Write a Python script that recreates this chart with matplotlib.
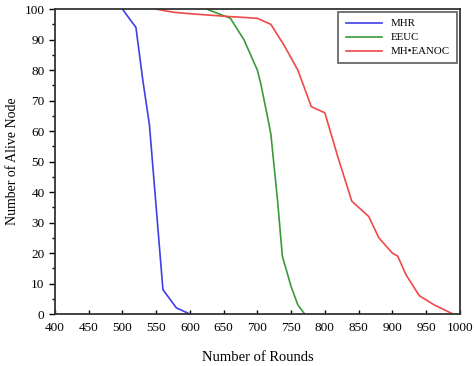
import matplotlib
matplotlib.use("Agg")
import matplotlib.pyplot as plt
from matplotlib.ticker import MultipleLocator

plt.rcParams['font.family'] = ['Liberation Serif', 'DejaVu Serif']

mhr_x = [500, 520, 530, 540, 550, 560, 580, 600]
mhr_y = [100, 94, 77, 62, 35, 8, 2, 0]

eeuc_x = [625, 660, 680, 700, 705, 715, 720, 730, 737, 750, 760, 770]
eeuc_y = [100, 97, 90, 80, 75.6, 64.7, 59, 37, 19, 9, 3, 0]

mh_x = [550, 575, 600, 650, 700, 720, 740, 760, 780, 800, 820, 840, 865, 880, 900, 908, 920, 940, 962, 990]
mh_y = [100, 99, 98.5, 97.7, 97, 95, 88, 80, 68, 66, 51, 37, 32, 25, 20, 19, 13, 6, 3, 0]

labels = ["MHR", "EEUC", "MH\u2022EANOC"]
colors = ["#3f3fe6", "#3a9a3a", "#f04848"]

fig = plt.figure(figsize=(4.74, 3.66), dpi=100)
ax = fig.add_axes([0.116, 0.142, 0.854, 0.833])

ax.plot(mhr_x, mhr_y, color=colors[0], lw=1.2, label=labels[0])
ax.plot(eeuc_x, eeuc_y, color=colors[1], lw=1.2, label=labels[1])
ax.plot(mh_x, mh_y, color=colors[2], lw=1.2, label=labels[2])

ax.set_xlim(400, 1000)
ax.set_ylim(0, 100)
ax.xaxis.set_major_locator(MultipleLocator(50))
ax.yaxis.set_major_locator(MultipleLocator(10))
ax.yaxis.set_minor_locator(MultipleLocator(5))
ax.tick_params(axis='x', direction='in', length=3, labelsize=9.5, width=1, pad=6)
ax.tick_params(axis='y', which='major', direction='out', length=4, labelsize=9.5, width=1)
ax.tick_params(axis='y', which='minor', direction='out', length=2.5, width=1)
for s in ax.spines.values():
    s.set_linewidth(1.3)
    s.set_color('#333333')

ax.set_xlabel("Number of Rounds", fontsize=10.5, labelpad=12)
ax.set_ylabel("Number of Alive Node", fontsize=10, labelpad=4)

leg = ax.legend(loc='upper right', fontsize=7.8, frameon=True, fancybox=False,
                edgecolor='#333333', handlelength=3.4, borderpad=0.65,
                labelspacing=0.4, handletextpad=0.8, borderaxespad=0.25)
leg.get_frame().set_linewidth(1.2)

fig.savefig("out.png", dpi=100)
